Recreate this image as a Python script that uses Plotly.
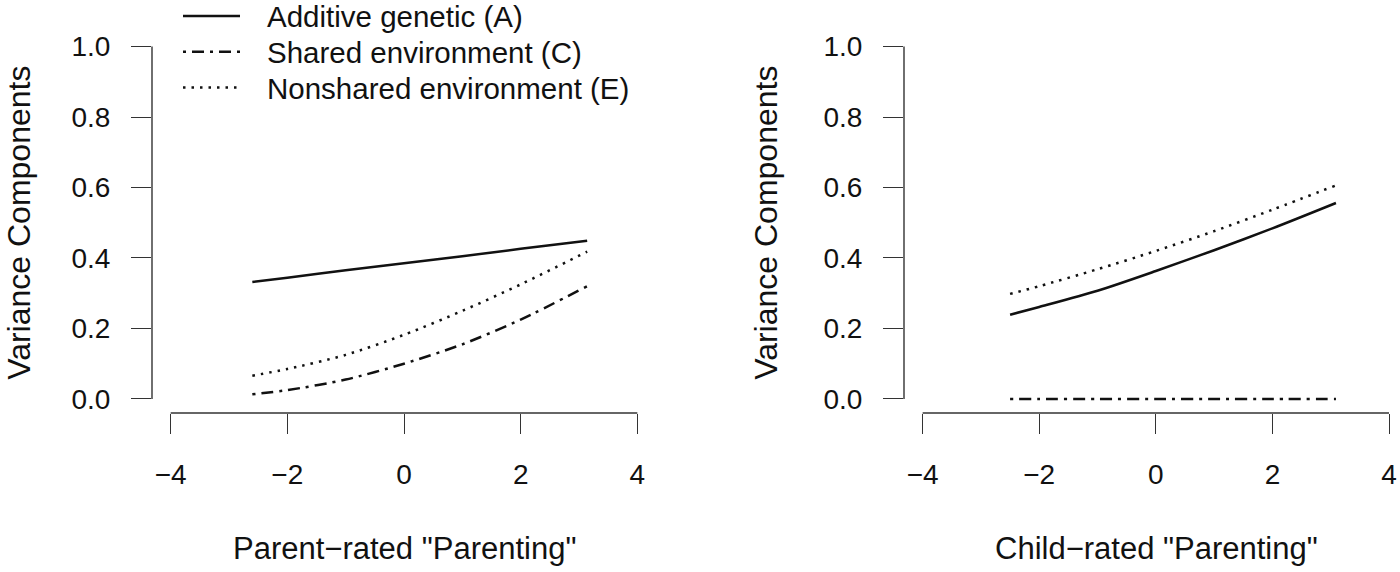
import plotly.graph_objects as go

# ---- data ----
x_parent = [-2.6, -2.0, -1.0, 0.0, 1.0, 2.0, 3.14]
A_parent = [0.332, 0.344, 0.365, 0.385, 0.405, 0.426, 0.449]
C_parent = [0.013, 0.025, 0.055, 0.100, 0.155, 0.225, 0.320]
E_parent = [0.066, 0.085, 0.125, 0.182, 0.250, 0.325, 0.418]

x_child = [-2.5, -2.0, -1.0, 0.0, 1.0, 2.0, 3.09]
A_child = [0.239, 0.261, 0.307, 0.363, 0.422, 0.484, 0.556]
C_child = [0.0, 0.0, 0.0, 0.0, 0.0, 0.0, 0.0]
E_child = [0.298, 0.320, 0.368, 0.420, 0.476, 0.537, 0.606]

series_names = ["Additive genetic (A)", "Shared environment (C)", "Nonshared environment (E)"]
x_ticks = [-4, -2, 0, 2, 4]
y_ticks = [0.0, 0.2, 0.4, 0.6, 0.8, 1.0]
y_ticktext = ["0.0", "0.2", "0.4", "0.6", "0.8", "1.0"]
x_titles = ['Parent\u2212rated "Parenting"', 'Child\u2212rated "Parenting"']
y_title = "Variance Components"

W, H = 1400, 572
FONT = "Liberation Sans, Arial, Helvetica, sans-serif"
INK = "#111111"
AX = "#333333"

styles = [
    dict(color=INK, width=2.5, dash="solid"),
    dict(color=INK, width=2.5, dash="3px,6px,12px,6px"),
    dict(color=INK, width=2.5, dash="2.5px,6px"),
]

fig = go.Figure()

panels = [
    (x_parent, [A_parent, C_parent, E_parent], "x", "y"),
    (x_child, [A_child, C_child, E_child], "x2", "y2"),
]
for xs, ys_list, xa, ya in panels:
    for name, ys, st in zip(series_names, ys_list, styles):
        fig.add_trace(go.Scatter(
            x=xs, y=ys, mode="lines", name=name, showlegend=False,
            line=dict(color=st["color"], width=st["width"], dash=st["dash"], shape="spline", smoothing=0.8),
            xaxis=xa, yaxis=ya, hoverinfo="skip",
        ))

def px_x(p):
    return p / W

def px_y(p):
    return 1 - p / H

# domains from the reference pixel layout
left_dom = [px_x(152), px_x(656)]
right_dom = [px_x(904), 1.0]
y_dom = [px_y(414.2), px_y(31.6)]

xaxis_common = dict(
    tickvals=x_ticks, ticks="outside", ticklen=20, tickwidth=1.4, tickcolor=AX,
    showgrid=False, zeroline=False, showline=False,
    tickfont=dict(family=FONT, size=28, color=INK), ticklabelstandoff=16,
    fixedrange=True,
)
yaxis_common = dict(
    tickvals=y_ticks, ticktext=y_ticktext, ticks="outside", ticklen=20, tickwidth=1.4, tickcolor=AX,
    showgrid=False, zeroline=False, showline=False, range=[-0.04, 1.04], domain=y_dom,
    tickfont=dict(family=FONT, size=28, color=INK), ticklabelstandoff=15,
    fixedrange=True,
)

fig.update_layout(
    width=W, height=H,
    margin=dict(l=0, r=0, t=0, b=0),
    paper_bgcolor="white", plot_bgcolor="white",
    showlegend=False,
    xaxis=dict(domain=left_dom, range=[-4.32, 4.32], anchor="y", **xaxis_common),
    yaxis=dict(anchor="x", **yaxis_common),
    xaxis2=dict(domain=right_dom, range=[-4.32, 4 + 11 / 58.3], anchor="y2", **xaxis_common),
    yaxis2=dict(anchor="x2", **yaxis_common),
)

# R-style detached axis lines
for xa, ya in (("x", "y"), ("x2", "y2")):
    fig.add_shape(type="line", xref=xa, yref=ya + " domain", x0=x_ticks[0], x1=x_ticks[-1], y0=0, y1=0,
                  line=dict(color=AX, width=1.4))
    fig.add_shape(type="line", xref=xa + " domain", yref=ya, x0=0, x1=0, y0=y_ticks[0], y1=y_ticks[-1],
                  line=dict(color=AX, width=1.4))

# axis titles
fig.add_annotation(text=x_titles[0], x=px_x(404), y=px_y(550), xref="paper", yref="paper",
                   showarrow=False, xanchor="center", yanchor="middle",
                   font=dict(family=FONT, size=31, color=INK))
fig.add_annotation(text=x_titles[1], x=px_x(1156), y=px_y(550), xref="paper", yref="paper",
                   showarrow=False, xanchor="center", yanchor="middle",
                   font=dict(family=FONT, size=31, color=INK))
for cx in (0, 747):
    fig.add_annotation(text=y_title, x=px_x(cx), y=px_y(223), xref="paper", yref="paper",
                       showarrow=False, xanchor="left", yanchor="middle", textangle=-90,
                       borderpad=0, font=dict(family=FONT, size=32, color=INK))

# legend (R style, top-left)
for i, (name, st) in enumerate(zip(series_names, styles)):
    cy = 15 + 36 * i
    fig.add_shape(type="line", xref="paper", yref="paper",
                  x0=px_x(183), x1=px_x(240), y0=px_y(cy), y1=px_y(cy),
                  line=dict(color=st["color"], width=st["width"], dash=st["dash"]))
    fig.add_annotation(text=name, x=px_x(265), y=px_y(cy + 1), xref="paper", yref="paper",
                       showarrow=False, xanchor="left", yanchor="middle",
                       font=dict(family=FONT, size=29.5, color=INK))

# remove the page's default 8px body margin so the figure sits at the corner
fig.write_html("out.html", post_script="document.body.style.margin='0';",
               config={"displayModeBar": False})
